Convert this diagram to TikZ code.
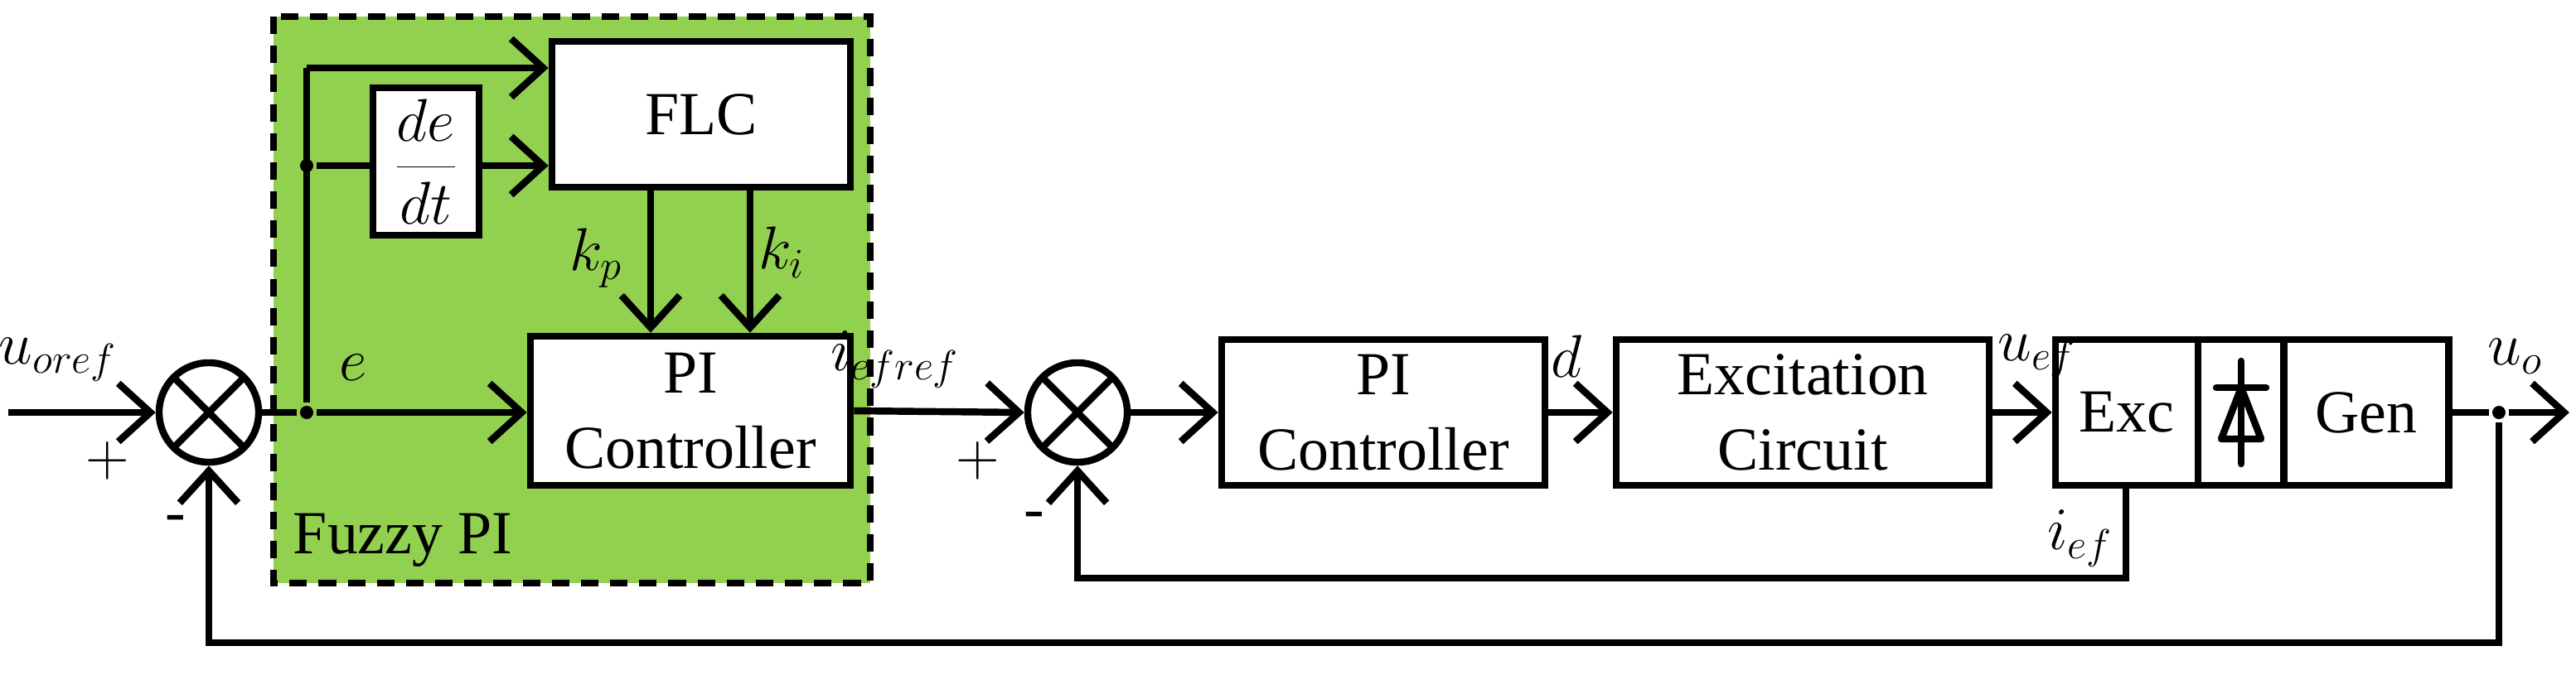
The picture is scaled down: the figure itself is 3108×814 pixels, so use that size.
\documentclass[tikz,border=0pt]{standalone}
\usepackage{fontspec}
\setmainfont{Liberation Serif}
\usetikzlibrary{arrows.meta,calc}
\definecolor{fz}{RGB}{146,208,80}
\begin{document}
\begin{tikzpicture}[x=0.01cm,y=-0.01cm,line width=2.4pt,
  >={Straight Barb[length=11pt,width=20pt,line width=2.4pt]},
  blk/.style={draw,fill=white,inner sep=0pt,align=center,font=\fontsize{21}{26}\selectfont},
  sum/.style={draw,circle,minimum size=1.2cm,inner sep=0pt,path picture={
     \draw (path picture bounding box.center) ++(-42,-42) -- ++(84,84);
     \draw (path picture bounding box.center) ++(-42,42) -- ++(84,-84);}},
  lab/.style={font=\fontsize{21}{26}\selectfont},
  dot/.style={circle,fill,inner sep=0pt,minimum size=0.16cm}]
\useasboundingbox (0,0) rectangle (3108,814);
\fill[fz] (330,20) rectangle (1050,704);
\draw[dash pattern=on 6pt off 4pt] (330,20) rectangle (1050,704);
\node[lab,anchor=south west] (fz) at (338,700) {Fuzzy PI};
\node[sum] (s1) at (252,498) {};
\node[sum] (s2) at (1300,498) {};
\node[blk,minimum width=1.28cm,minimum height=1.78cm] (dd) at (514,195) {$\displaystyle\frac{de}{dt}$};
\node[blk,minimum width=3.6cm,minimum height=1.76cm] (flc) at (846,138) {FLC};
\node[blk,minimum width=3.86cm,minimum height=1.8cm] (pi1) at (833,496) {PI\\Controller};
\node[blk,minimum width=3.9cm,minimum height=1.76cm] (pi2) at (1669,498) {PI\\Controller};
\node[blk,minimum width=4.5cm,minimum height=1.76cm] (exc) at (2175,498) {Excitation\\Circuit};
\node[blk,minimum width=1.72cm,minimum height=1.76cm] (ex) at (2566,498) {Exc};
\node[blk,minimum width=1.04cm,minimum height=1.76cm] (di) at (2704,498) {};
\node[blk,minimum width=1.99cm,minimum height=1.76cm] (gen) at (2855,498) {Gen};
% diode
\draw[line cap=round] (2704,436) -- (2704,560);
\draw[line cap=round] (2674,468) -- (2734,468);
\draw[line join=round] (2704,468) -- (2680,530) -- (2728,530) -- cycle;
% junctions
\node[dot] (j1) at (370,498) {};
\node[dot] (j2) at (370,200) {};
\coordinate (jt) at (370,82);
\node[dot] (j3) at (3015,498) {};
\coordinate (in) at (10,498);
\coordinate (out) at (3100,498);
% connections
\draw[->] (in) -- (s1.west);
\draw (s1.east) -- (j1);
\draw[->] (j1) -- (pi1.west |- j1);
\draw (j1) -- (jt);
\draw[->] (jt) -- (flc.west |- jt);
\draw (j2) -- (dd.west |- j2);
\draw[->] (dd.east |- j2) -- (flc.west |- j2);
\draw[->] (flc.south -| 785,0) -- (pi1.north -| 785,0);
\draw[->] (flc.south -| 905,0) -- (pi1.north -| 905,0);
\draw[->] (pi1.east) -- (s2.west);
\draw[->] (s2.east) -- (pi2.west);
\draw[->] (pi2.east) -- (exc.west);
\draw[->] (exc.east) -- (ex.west);
\draw (gen.east) -- (j3);
\draw[->] (j3) -- (out);
\draw[->] (ex.south -| 2565,0) -- (2565,698) -| (s2.south);
\draw[->] (j3) -- (3015,776) -| (s1.south);
% labels
\node[lab] at (70,434) {$u_{oref}$};
\node[lab] at (130,556) {$+$};
\node[lab] at (212,632) {-};
\node[lab] at (426,444) {$e$};
\node[lab] at (719,312) {$k_p$};
\node[lab] at (943,305) {$k_i$};
\node[lab] at (1080,434) {$i_{efref}$};
\node[lab] at (1180,556) {$+$};
\node[lab] at (1248,628) {-};
\node[lab] at (1890,430) {$d$};
\node[lab] at (2458,430) {$u_{ef}$};
\node[lab] at (2510,650) {$i_{ef}$};
\node[lab] at (3035,430) {$u_o$};
\end{tikzpicture}
\end{document}
